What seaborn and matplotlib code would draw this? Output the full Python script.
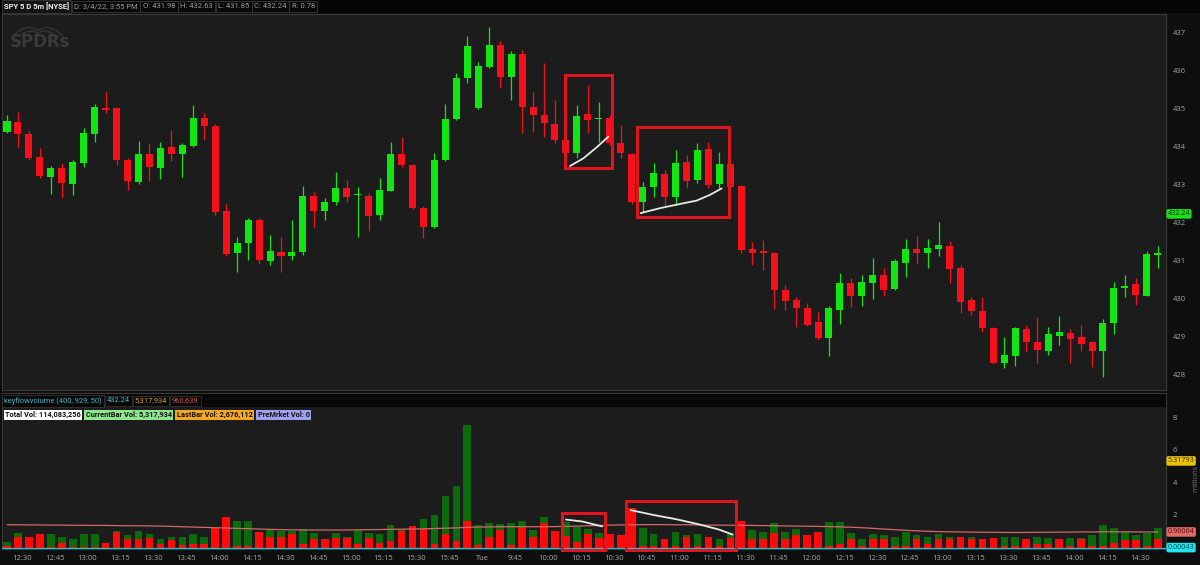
import numpy as np
import pandas as pd
import matplotlib
matplotlib.use("Agg")
import matplotlib.pyplot as plt
from matplotlib.patches import Rectangle
from matplotlib.lines import Line2D
import seaborn as sns

# ---------------- data ----------------
opens = [434.39,434.67,434.33,433.74,433.20,433.44,433.03,433.57,434.34,435.00,
         435.02,433.66,433.08,433.82,433.46,434.01,433.82,434.03,434.77,434.55,
         432.32,431.20,431.48,432.08,431.01,431.23,431.14,431.24,432.72,432.32,
         432.56,432.91,432.73,432.72,432.21,432.85,433.81,433.53,432.40,431.90,
         433.66,434.74,435.81,435.02,436.11,436.68,435.85,436.44,435.04,434.84,
         434.60,434.18,433.85,434.86,434.73,434.77,434.10,433.81,432.56,432.96,
         433.28,432.68,433.61,433.13,433.94,433.03,433.54,432.97,431.32,431.26,
         431.22,430.24,429.97,429.75,429.40,428.97,429.71,430.41,430.08,430.43,
         430.63,430.26,430.96,431.32,431.22,431.31,431.40,430.82,429.97,429.69,
         429.23,428.31,428.50,429.20,428.86,428.64,429.03,429.11,428.99,428.86,
         428.63,429.38,430.30,430.39,430.09,431.17]
highs = [434.84,434.93,434.45,433.97,433.50,433.59,433.66,434.49,435.13,435.46,
         435.06,433.70,434.17,434.11,434.14,434.45,434.10,435.11,434.90,434.60,
         432.50,431.64,432.14,432.14,431.68,431.64,432.08,432.98,432.82,432.65,
         433.35,433.13,432.96,432.78,433.19,434.14,434.26,433.55,432.45,433.85,
         435.13,435.96,436.92,436.24,437.15,436.80,436.52,436.55,435.46,436.20,
         435.24,434.22,435.11,435.63,435.19,434.85,434.58,433.85,433.09,433.59,
         433.40,433.92,433.79,434.11,434.14,433.88,433.60,432.99,431.51,431.55,
         431.24,430.36,430.05,429.89,429.67,429.82,430.68,430.54,430.63,431.07,
         430.81,431.05,431.57,431.66,431.57,432.03,431.53,430.90,430.05,430.04,
         429.25,428.99,429.27,429.32,429.52,429.25,429.55,429.20,429.32,428.90,
         429.47,430.46,430.63,430.54,431.25,431.39]
lows = [434.37,433.99,433.66,433.18,432.76,432.65,432.74,433.47,434.14,434.89,
        433.53,432.87,433.03,433.11,433.15,433.63,433.22,434.00,434.18,432.21,
        431.12,430.72,431.03,430.92,430.89,430.72,431.03,431.15,431.90,432.08,
        432.47,432.56,431.64,431.80,432.08,432.83,433.47,432.36,431.60,431.88,
        433.64,434.72,435.68,434.99,436.09,435.54,435.24,434.36,434.40,434.27,
        434.10,433.79,433.70,434.36,434.14,434.05,433.70,432.50,432.30,432.69,
        432.45,432.47,432.91,433.04,432.91,432.91,432.61,431.22,430.89,430.76,
        429.73,429.71,429.26,429.30,428.92,428.50,429.34,429.78,429.82,429.99,
        430.08,430.24,430.57,430.91,430.81,431.13,430.43,429.64,429.58,429.14,
        428.30,428.18,428.24,428.61,428.31,428.53,428.79,428.32,428.64,428.22,
        427.94,429.08,430.04,429.84,430.07,430.81]
closes = [434.68,434.33,433.72,433.23,433.44,433.06,433.60,434.36,435.06,434.98,
          433.66,433.11,433.82,433.48,433.97,433.82,434.05,434.76,434.55,432.30,
          431.18,431.48,432.08,431.03,431.26,431.14,431.23,432.72,432.32,432.56,
          432.91,432.69,432.75,432.19,432.87,433.82,433.53,432.40,431.89,433.66,
          434.74,435.82,436.66,436.14,436.68,435.85,436.44,435.06,434.84,434.62,
          434.18,433.83,434.82,434.71,434.77,434.10,433.83,432.56,432.94,433.31,
          432.69,433.59,433.11,433.92,433.00,433.54,432.96,431.29,431.22,431.20,
          430.24,429.96,429.77,429.32,428.97,429.75,430.43,430.08,430.44,430.63,
          430.24,431.01,431.32,431.22,431.33,431.42,430.79,429.93,429.68,429.23,
          428.32,428.53,429.23,428.86,428.66,429.08,429.12,428.95,428.82,428.63,
          429.38,430.28,430.35,430.11,431.18,431.19]

# volume (millions): total bar and the red (sell) part
vol_total = [0.32,0.92,0.65,0.82,0.84,0.66,0.50,0.82,0.84,0.30,
             1.02,0.75,1.02,0.85,0.52,0.63,0.63,0.85,0.63,1.20,
             1.85,1.65,1.65,0.95,1.13,1.03,1.03,1.13,0.92,0.55,
             0.92,0.65,1.05,0.90,0.84,1.40,1.15,1.31,1.76,2.00,
             3.16,3.80,7.50,1.40,1.50,1.46,1.50,1.62,1.09,1.87,
             1.00,1.56,1.29,1.15,0.90,0.85,0.80,2.45,1.20,0.85,
             0.50,0.95,0.78,0.85,0.68,0.55,0.92,1.62,1.08,0.95,
             1.50,0.97,1.13,0.80,0.98,1.55,1.55,0.92,0.52,0.85,
             0.75,0.68,0.95,0.80,0.68,0.85,0.68,0.68,0.68,0.52,
             0.60,0.68,0.68,0.52,0.68,0.57,0.52,0.57,0.60,0.80,
             1.38,1.18,0.97,0.77,0.89,1.20]
vol_red = [0.10,0.63,0.65,0.82,0.05,0.30,0.03,0.05,0.06,0.30,
           0.95,0.50,0.50,0.60,0.20,0.45,0.15,0.20,0.20,1.20,
           1.85,0.12,0.08,0.95,0.66,0.66,0.85,0.20,0.52,0.50,
           0.57,0.57,0.20,0.57,0.27,0.39,1.00,1.31,1.15,0.23,
           0.84,0.43,1.66,0.18,0.68,1.10,0.16,1.21,0.68,1.52,
           1.00,0.74,0.33,0.84,0.60,0.85,0.80,2.45,0.12,0.12,
           0.50,0.12,0.68,0.10,0.68,0.10,0.60,1.62,0.50,0.50,
           0.92,0.55,0.75,0.80,0.98,0.12,0.20,0.50,0.08,0.50,
           0.50,0.12,0.12,0.50,0.20,0.55,0.50,0.68,0.50,0.52,
           0.60,0.12,0.12,0.52,0.20,0.20,0.52,0.12,0.50,0.12,
           0.10,0.28,0.46,0.46,0.10,0.52]
vol_avg = [1.40,1.40,1.39,1.39,1.38,1.38,1.37,1.37,1.36,1.36,
           1.35,1.34,1.34,1.33,1.32,1.30,1.28,1.26,1.24,1.22,
           1.20,1.18,1.16,1.14,1.12,1.10,1.09,1.08,1.08,1.08,
           1.08,1.08,1.09,1.10,1.11,1.12,1.13,1.14,1.15,1.17,
           1.19,1.21,1.24,1.26,1.27,1.28,1.28,1.28,1.28,1.28,
           1.29,1.30,1.32,1.34,1.36,1.38,1.39,1.40,1.41,1.41,
           1.41,1.40,1.40,1.39,1.38,1.38,1.37,1.37,1.36,1.35,
           1.34,1.33,1.32,1.31,1.30,1.29,1.27,1.25,1.22,1.18,
           1.14,1.10,1.06,1.03,1.00,0.98,0.97,0.96,0.95,0.94,
           0.94,0.93,0.93,0.93,0.94,0.94,0.95,0.95,0.96,0.96,
           0.97,0.97,0.97,0.96,0.96,0.96]

tick_idx = [1,4,7,10,13,16,19,22,25,28,31,34,37,40,43,46,49,52,55,58,61,64,67,
            70,73,76,79,82,85,88,91,94,97,100,103]
tick_labels = ["12:30","12:45","13:00","13:15","13:30","13:45","14:00","14:15",
               "14:30","14:45","15:00","15:15","15:30","15:45","Tue","9:45",
               "10:00","10:15","10:30","10:45","11:00","11:15","11:30","11:45",
               "12:00","12:15","12:30","12:45","13:00","13:15","13:30","13:45",
               "14:00","14:15","14:30"]
price_ticks = [428,429,430,431,432,433,434,435,436,437]
vol_ticks = [2,4,6,8]

# annotation boxes (x index range, value range) and hand-drawn lines
price_boxes = [(50.95, 55.2, 433.45, 435.89), (57.5, 65.9, 432.16, 434.53)]
price_line1_x = [51.37, 52.58, 53.80, 54.86]
price_line1_y = [433.50, 433.70, 433.99, 434.27]
price_line2_x = [57.82, 59.58, 61.40, 62.93, 64.14, 65.21]
price_line2_y = [432.26, 432.39, 432.50, 432.59, 432.74, 432.91]
vol_boxes = [(50.64, 54.56, -0.15, 2.12), (56.48, 66.5, -0.15, 2.85)]
vol_line1_x = [51.0, 52.5, 54.3]
vol_line1_y = [1.72, 1.60, 1.30]
vol_line2_x = [56.9, 59.0, 61.0, 63.0, 65.0, 66.2]
vol_line2_y = [2.30, 2.00, 1.75, 1.45, 1.10, 0.80]

header_cells = ["SPY 5 D 5m [NYSE]", "D: 3/4/22, 3:55 PM", "O: 431.98", "H: 432.63",
                "L: 431.85", "C: 432.24", "R: 0.78"]
header_x = [4, 72, 138, 173, 208, 243, 278]
study_cells = ["keyflowvolume (400, 929, 50)", "432.24", "5,317,934", "960,639"]
study_x = [4, 104, 131, 166]
info_cells = ["Total Vol: 114,083,256", "CurrentBar Vol: 5,317,934",
              "LastBar Vol: 2,676,112", "PreMrket Vol: 0"]
info_x = [5, 82, 171, 249]

# ---------------- style ----------------
BG = "#1c1c1c"
FIG_BG = "#0e0e0e"
GREEN = "#12e612"
RED = "#f5101c"
VGREEN = "#0b6b0b"
VRED = "#ff0a0a"
BOX = "#e0141e"
TXT = "#a6a6a6"
NARROW = ["Liberation Sans Narrow", "Roboto", "DejaVu Sans"]

sns.set_theme(style="dark", rc={"axes.facecolor": BG, "figure.facecolor": FIG_BG})
plt.rcParams["font.family"] = ["Open Sans", "DejaVu Sans"]

W, H = 1200, 565
fig = plt.figure(figsize=(W / 100, H / 100), dpi=100)
renderer = fig.canvas.get_renderer()

def fy(y):
    return 1 - y / H

ax = fig.add_axes([2 / W, fy(390), 1164 / W, fy(14) - fy(390)])
axv = fig.add_axes([2 / W, fy(549), 1164 / W, fy(393) - fy(549)])

n = len(opens)
idx = np.arange(n)
df = pd.DataFrame({"idx": idx, "open": opens, "high": highs, "low": lows, "close": closes,
                   "vt": vol_total, "vr": vol_red, "va": vol_avg})
up = df["close"] >= df["open"]
ccol = np.where(up, GREEN, RED)

# candles
ax.vlines(df["idx"], df["low"], df["high"], colors=ccol, lw=0.9, zorder=2)
body_bottom = np.minimum(df["open"], df["close"])
body_h = np.maximum(np.abs(df["close"] - df["open"]), 0.045)
ax.bar(df["idx"], body_h, bottom=body_bottom, width=0.64, color=ccol, zorder=3, linewidth=0)

for (x0, x1, y0, y1) in price_boxes:
    ax.add_patch(Rectangle((x0, y0), x1 - x0, y1 - y0, fill=False, ec=BOX, lw=2.2, zorder=5))
ax.plot(price_line1_x, price_line1_y, color="#e8e8e8", lw=1.3, zorder=6)
ax.plot(price_line2_x, price_line2_y, color="#e8e8e8", lw=1.3, zorder=6)

xlim = (-0.456, 105.75)
ax.set_xlim(*xlim)
ax.set_ylim(427.605, 437.5)
ax.yaxis.tick_right()
ax.set_yticks(price_ticks)
ax.set_yticklabels([str(t) for t in price_ticks])
ax.set_xticks([])
ax.tick_params(axis="y", length=0, pad=5, labelsize=5.5, labelcolor=TXT)
for s in ax.spines.values():
    s.set_color("#3a3a3a")
    s.set_linewidth(0.8)

ax.text(1.0015, 432.24, "432.24", transform=ax.get_yaxis_transform(), ha="left", va="center",
        fontsize=5.2, color="#0a2a0a",
        bbox=dict(boxstyle="round,pad=0.18,rounding_size=0.25", fc="#19e019", ec="none"),
        clip_on=False, zorder=10)

# SPDRs watermark (text + faint spider outline)
ax.text(8 / 1164, 1 - (42 - 14) / 376, "SPDRs", transform=ax.transAxes, fontsize=12,
        fontweight="bold", color="#3a3a3a", ha="left", va="center", zorder=1,
        family=["DejaVu Sans"])
spider = [
    [(13, 36), (20, 30), (29, 27), (38, 30)],
    [(38, 30), (47, 27), (56, 30), (63, 36)],
    [(19, 36), (26, 32), (34, 31), (38, 33)],
    [(38, 33), (42, 31), (50, 32), (57, 36)],
]
for seg in spider:
    xs = [p[0] / W for p in seg]
    ys = [fy(p[1]) for p in seg]
    fig.add_artist(Line2D(xs, ys, transform=fig.transFigure, color="#353535", lw=1.1,
                          zorder=3))

# volume
sns.barplot(data=df, x="idx", y="vt", native_scale=True, color=VGREEN, saturation=1,
            width=0.7, errorbar=None, ax=axv, zorder=2, linewidth=0)
sns.barplot(data=df, x="idx", y="vr", native_scale=True, color=VRED, saturation=1,
            width=0.7, errorbar=None, ax=axv, zorder=3, linewidth=0)
sns.lineplot(data=df, x="idx", y="va", color="#d06a6a", lw=0.9, ax=axv, zorder=4)
axv.axhline(0.0004, color="#19c8d8", lw=0.9, zorder=4)

for (x0, x1, y0, y1) in vol_boxes:
    axv.add_patch(Rectangle((x0, y0), x1 - x0, y1 - y0, fill=False, ec=BOX, lw=2.2,
                            zorder=5, clip_on=False))
axv.plot(vol_line1_x, vol_line1_y, color="#e8e8e8", lw=1.3, zorder=6)
axv.plot(vol_line2_x, vol_line2_y, color="#e8e8e8", lw=1.3, zorder=6)

axv.set_xlim(*xlim)
axv.set_ylim(-0.086, 9.485)
axv.set_xlabel("")
axv.set_ylabel("")
axv.yaxis.tick_right()
axv.set_yticks(vol_ticks)
axv.set_yticklabels([str(t) for t in vol_ticks])
axv.set_xticks(np.array(tick_idx) + 0.35)
axv.set_xticklabels(tick_labels)
axv.tick_params(axis="y", length=0, pad=5, labelsize=5.5, labelcolor=TXT)
axv.tick_params(axis="x", length=0, pad=4, labelsize=5.5, labelcolor=TXT)
for s in axv.spines.values():
    s.set_color("#3a3a3a")
    s.set_linewidth(0.8)

tag_style = dict(transform=axv.get_yaxis_transform(), ha="left", va="center", fontsize=5.2,
                 clip_on=False, zorder=10)
axv.text(1.0015, 5.31793, "5.31793", color="#3a2a00",
         bbox=dict(boxstyle="round,pad=0.18,rounding_size=0.25", fc="#e8c200", ec="none"), **tag_style)
axv.text(1.0015, 0.96064, "0.96064", color="#5a0a0a",
         bbox=dict(boxstyle="round,pad=0.18,rounding_size=0.25", fc="#e06a6a", ec="none"), **tag_style)
axv.text(1.0015, 0.00043, "0.00043", color="#004a55",
         bbox=dict(boxstyle="round,pad=0.18,rounding_size=0.25", fc="#22e4f0", ec="none"), **tag_style)
axv.text(1.026, 0.45, "millions", rotation=90, transform=axv.transAxes, fontsize=5.5,
         color="#707070", ha="center", va="center", clip_on=False)


def place_row(cells, xs, ypix, styles, gap):
    """Place boxed texts left to right, never letting one overlap the previous."""
    prev_end = -1e9
    for i, (t, x) in enumerate(zip(cells, xs)):
        x = max(x, prev_end + gap)
        txt = fig.text(x / W, fy(ypix), t, ha="left", va="center", **styles[i])
        ext = txt.get_window_extent(renderer)
        prev_end = ext.x1


# volume study header strip
fig.patches.append(Rectangle((2 / W, fy(407)), 1164 / W, (407 - 394) / H,
                             transform=fig.transFigure, fc="#080808", ec="none", zorder=5))
row1_col = ["#3fb8c4", "#3fb8c4", "#c89a30", "#d05050"]
place_row(study_cells, study_x, 401,
          [dict(fontsize=5.4, color=c, family=NARROW, zorder=6,
                bbox=dict(boxstyle="square,pad=0.25", fc="#080808", ec="#333333", lw=0.6))
           for c in row1_col], gap=5)
row2_bg = ["#ffffff", "#8ee68e", "#f5a623", "#a0a0ee"]
place_row(info_cells, info_x, 415,
          [dict(fontsize=5.3, color="#111111", fontweight="bold", family=NARROW, zorder=6,
                bbox=dict(boxstyle="square,pad=0.2", fc=c, ec="none"))
           for c in row2_bg], gap=5)

# top header strip
fig.patches.append(Rectangle((0, fy(13)), 1, 13 / H, transform=fig.transFigure,
                             fc="#050505", ec="none", zorder=0))
hdr_styles = []
for i in range(len(header_cells)):
    hdr_styles.append(dict(fontsize=5.5, family=NARROW,
                           color="#f0f0f0" if i == 0 else "#9a9a9a",
                           fontweight="bold" if i == 0 else "normal",
                           bbox=dict(boxstyle="square,pad=0.3",
                                     fc="#141414" if i == 0 else "#080808",
                                     ec="#3a3a3a", lw=0.6)))
place_row(header_cells, header_x, 6.5, hdr_styles, gap=5)

fig.savefig("out.png", dpi=100, facecolor=FIG_BG)
